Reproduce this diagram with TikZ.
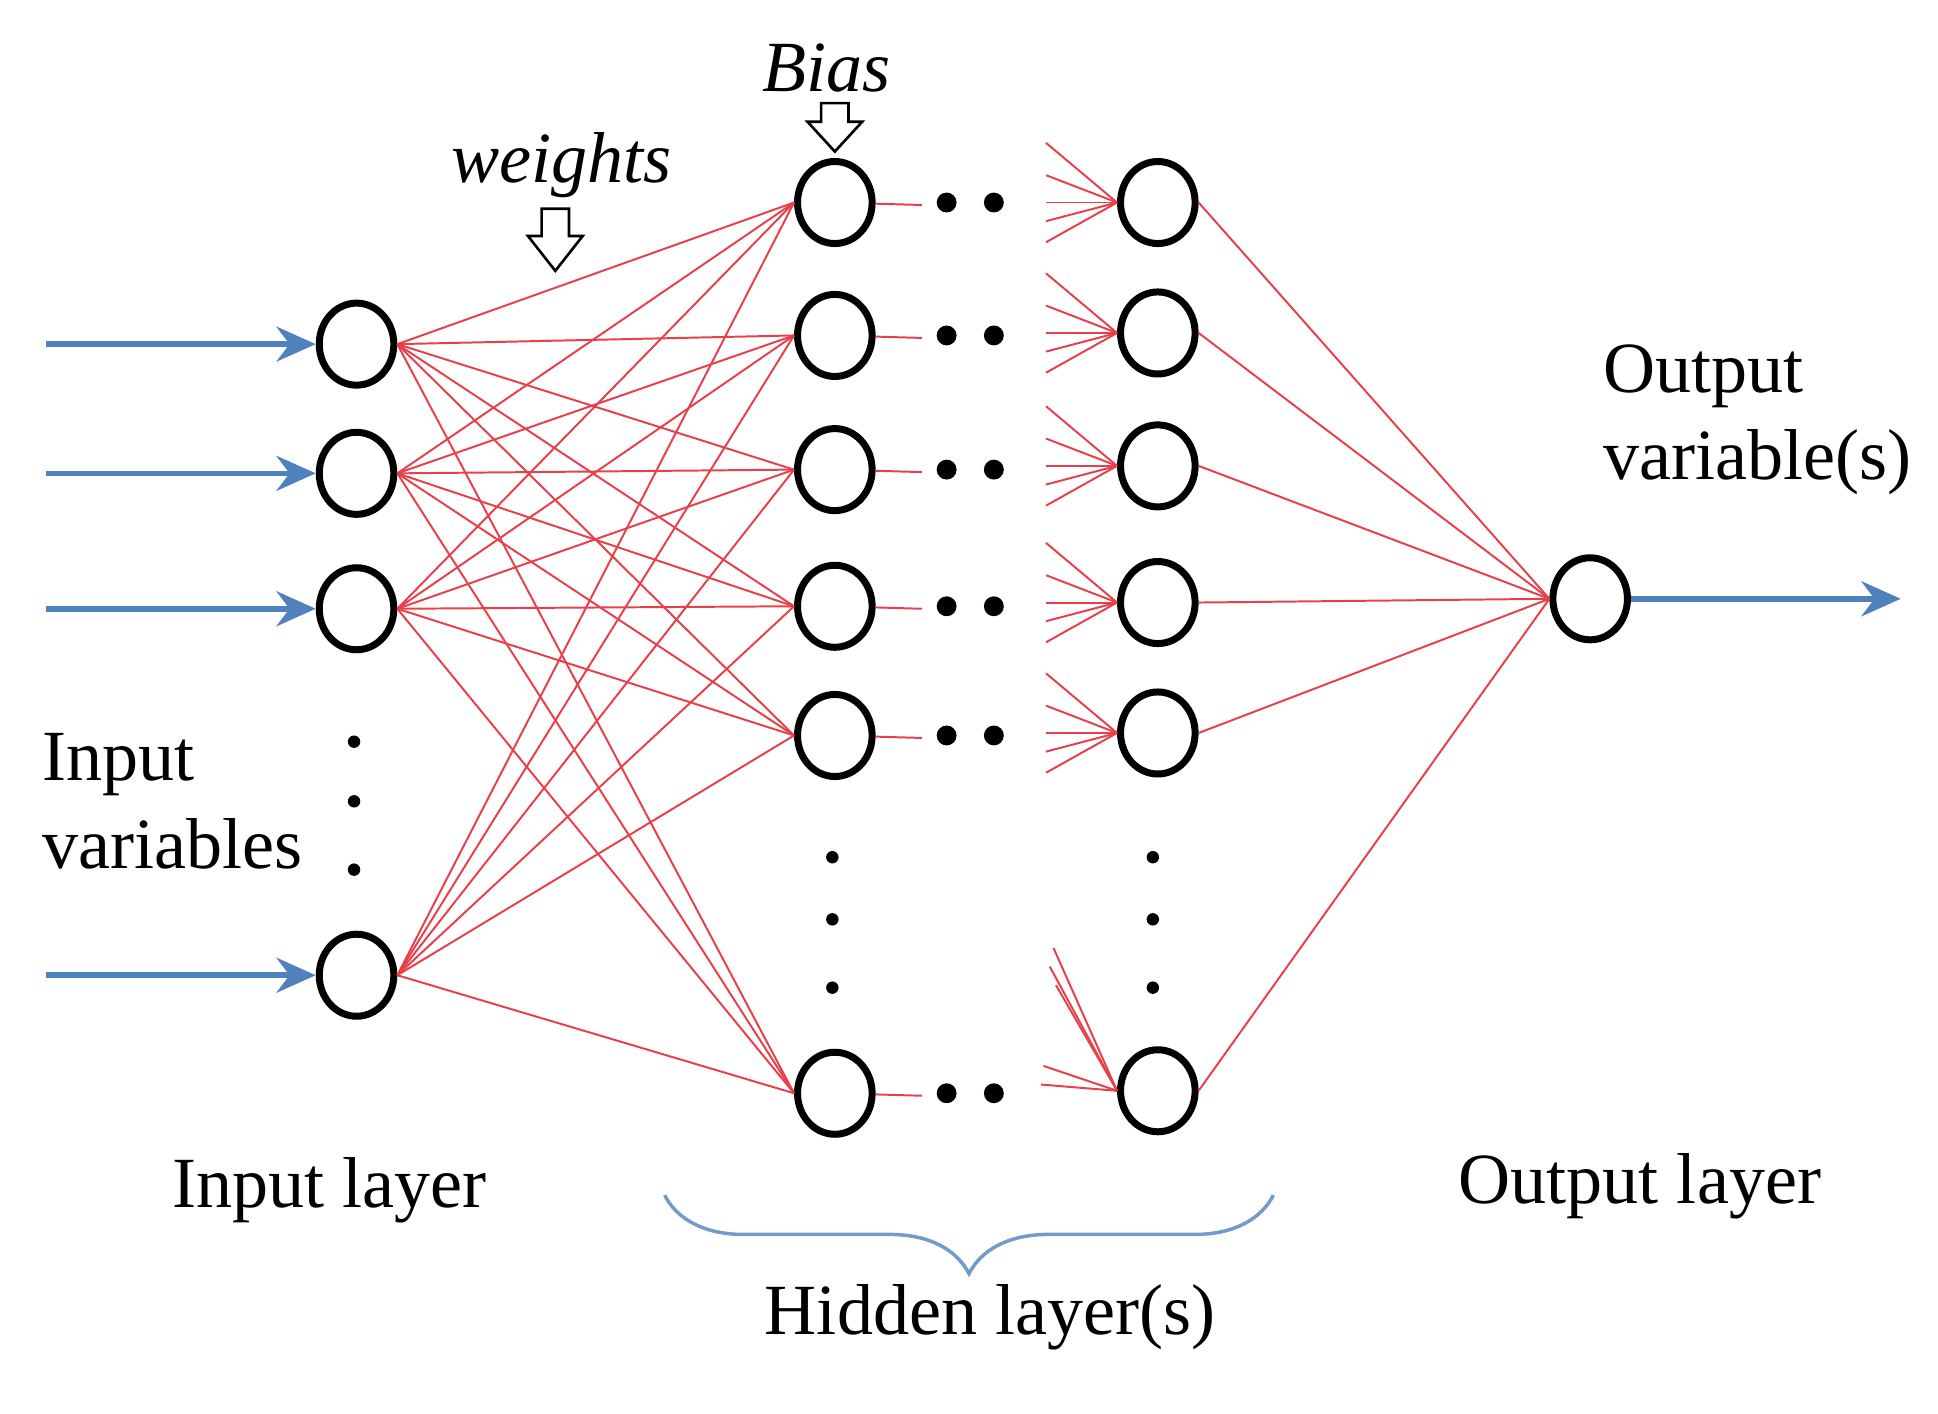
\documentclass[tikz,border=0pt]{standalone}
\usepackage{fontspec}
\setmainfont{Liberation Serif}
\usetikzlibrary{arrows.meta,decorations.pathreplacing,shapes.geometric}
\definecolor{steel}{HTML}{4F81BD}
\definecolor{wred}{HTML}{E8404A}
\begin{document}
\begin{tikzpicture}[x=0.01cm,y=-0.01cm,
  neuron/.style={draw=black,line width=1.6pt,ellipse,minimum width=0.6cm,minimum height=0.66cm,inner sep=0pt},
  w/.style={draw=wred,line width=0.45pt},
  inarr/.style={draw=steel,line width=1.3pt,-{Stealth[length=9pt,width=8pt,inset=3pt]}},
  dot/.style={circle,fill=black,inner sep=0pt,minimum size=0.1cm},
  bdot/.style={circle,fill=black,inner sep=0pt,minimum size=0.16cm},
  lbl/.style={font=\fontsize{16.5}{20}\selectfont,align=left},
  hollow/.style={draw=black,fill=white,line width=0.6pt}]
\useasboundingbox (0,0) rectangle (1560,1138);
% input
\foreach \n/\y in {1/277,2/381,3/490,4/785}{
  \node[neuron] (i\n) at (287,\y) {};
  \coordinate (s\n) at (37,\y);
  \draw[inarr] (s\n) -- (i\n);
}
\foreach \y in {597,645,700}{\node[dot] at (285,\y) {};}
% hidden 1
\foreach \n/\y in {1/163,2/270,3/378,4/488,5/592,6/880}{
  \node[neuron] (h\n) at (672,\y) {};
  \node[bdot] (da\n) at (762,\y) {};
  \node[bdot] (db\n) at (800,\y) {};
  \coordinate (e\n) at (742,\y+2);
  \draw[w] (h\n) -- (e\n);
}
\foreach \y in {690,740,795}{\node[dot] at (670,\y) {};}
% hidden 2
\foreach \n/\y in {1/163,2/268,3/375,4/485,5/590,6/878}{
  \node[neuron] (g\n) at (932,\y) {};
}
\foreach \y in {690,740,795}{\node[dot] at (928,\y) {};}
% output
\node[neuron] (o) at (1280,482) {};
\coordinate (oe) at (1530,482);
\draw[inarr] (o) -- (oe);
% weights input->hidden
\foreach \i in {1,2,3,4}{\foreach \h in {1,...,6}{\draw[w] (i\i.east) -- (h\h.west);}}
% stubs into hidden2
\foreach \n/\y in {1/163,2/268,3/375,4/485,5/590}{
  \foreach \d in {-48,-22,0,15,32}{
    \coordinate (t\n\d) at (842,\y+\d);
    \draw[w] (t\n\d) -- (g\n.west);
  }
}
\foreach \d/\dx in {-115/848,-100/845,-85/850,-20/840,-5/838}{
  \coordinate (tl\d) at (\dx,878+\d);
  \draw[w] (tl\d) -- (g6.west);
}
% hidden2 -> output
\foreach \n in {1,...,6}{\draw[w] (g\n.east) -- (o.west);}
% labels
\node[lbl,font=\fontsize{16.5}{20}\selectfont\itshape] (bias) at (665,55) {Bias};
\draw[hollow] (661,83) -- (683,83) -- (683,98) -- (694,98) -- (672,122) -- (650,98) -- (661,98) -- cycle;
\node[lbl,font=\fontsize{16.5}{20}\selectfont\itshape] (wt) at (452,133) {weights};
\draw[hollow] (436,168) -- (458,168) -- (458,190) -- (469,190) -- (447,218) -- (425,190) -- (436,190) -- cycle;
\node[lbl,anchor=west] (iv) at (22,645) {Input\\variables};
\node[lbl,anchor=west] (ov) at (1278,338) {Output\\variable(s)};
\node[lbl] (il) at (265,958) {Input layer};
\node[lbl] (ol) at (1320,955) {Output layer};
\node[lbl] (hl) at (797,1060) {Hidden layer(s)};
\draw[draw=steel!80,line width=0.8pt,decorate,decoration={brace,amplitude=18pt,mirror}] (535,962) -- (1025,962);
\end{tikzpicture}
\end{document}
